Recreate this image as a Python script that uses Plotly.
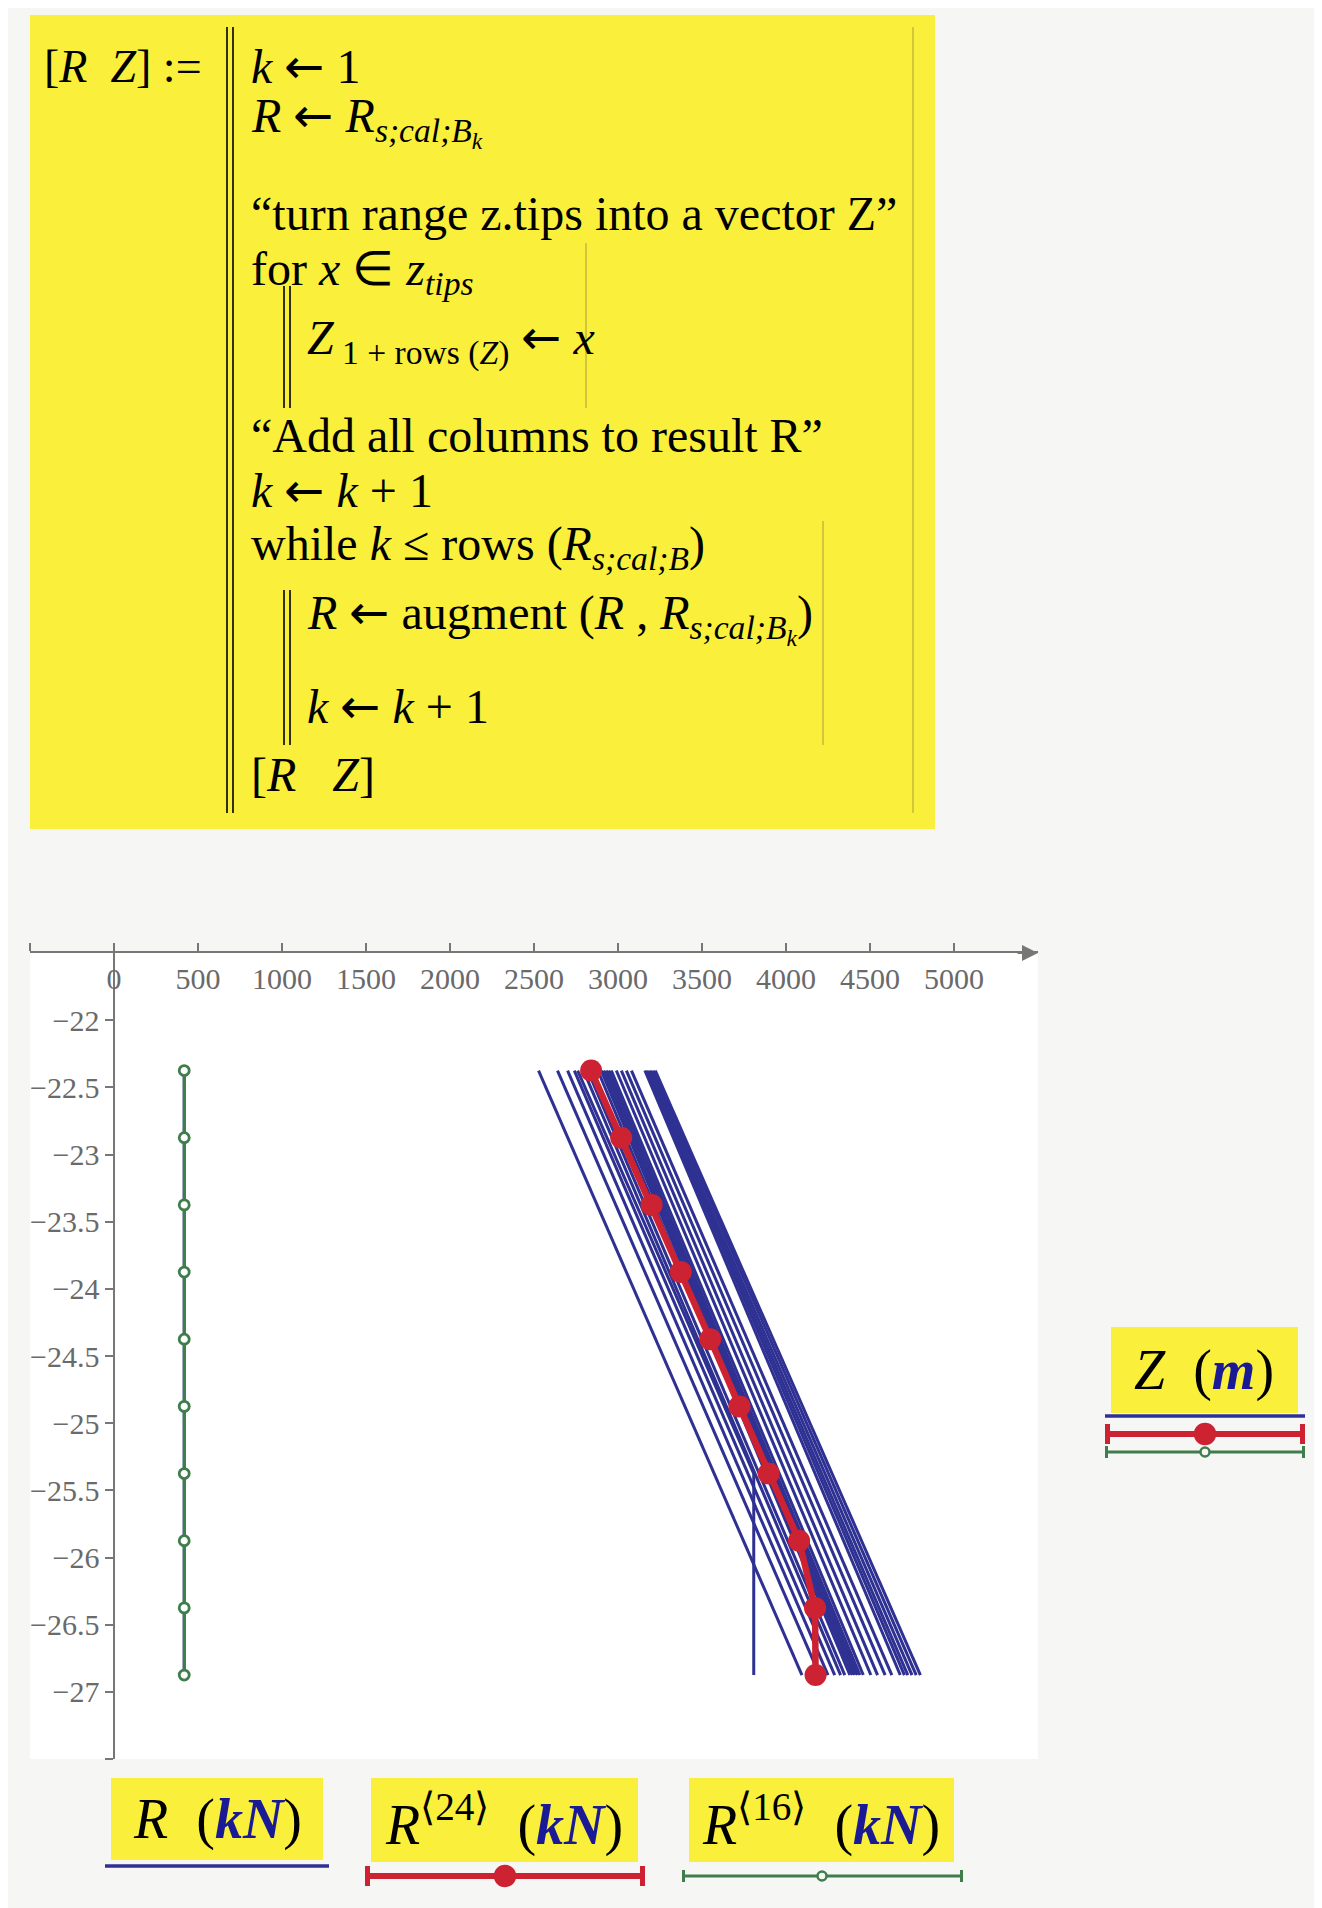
import plotly.graph_objects as go

# -----------------------------
# Datos
# -----------------------------
z_tips = [-22.375, -22.875, -23.375, -23.875, -24.375,
          -24.875, -25.375, -25.875, -26.375, -26.875]

# columnas "normales" de R: valor en la punta superior e inferior
r_top = [2527, 2640, 2700, 2740, 2795, 2820,
         2880, 2900, 2915, 2930, 2945, 2960, 2990, 3020, 3050, 3080,
         3160, 3172, 3185, 3196, 3210, 3222]
r_bot = [4095, 4200, 4250, 4290, 4325, 4350,
         4380, 4395, 4410, 4425, 4440, 4460, 4505, 4545, 4590, 4630,
         4680, 4705, 4725, 4750, 4775, 4800]

# columna con el tramo vertical
r_kink = [2760, 2935, 3110, 3285, 3460, 3635, 3808, 3808, 3808, 3808]
# R<24> y R<16>
r24 = [2840, 3019, 3200, 3374, 3549, 3723, 3897, 4078, 4173, 4176]
r16 = [418, 418, 418, 418, 418, 418, 418, 418, 418, 418]

x_ticks = [-500, 0, 500, 1000, 1500, 2000, 2500, 3000, 3500, 4000, 4500, 5000]
y_ticks = [-27.5, -27, -26.5, -26, -25.5, -25, -24.5, -24, -23.5, -23, -22.5, -22]

# -----------------------------
# Colores / geometria
# -----------------------------
AZUL = "#2e3192"
ROJO = "#cc2232"
VERDE = "#3f7d4c"
AMARILLO = "#faf03c"
GRIS = "#777777"
FONDO = "#f6f7f5"
SERIF = "Liberation Serif"
FLECHA = "<span style='font-family:DejaVu Sans'>←</span>"

W, H = 1322, 1908
OFF = 8  # margen del body de la pagina
ML, MR, MT, MB = 22, 292, 945, 157
PW, PH = W - ML - MR, H - MT - MB


def px(x):
    return (x - OFF - ML) / PW


def py(y):
    return 1 - (y - OFF - MT) / PH


fig = go.Figure()

# Lineas azules (todas las columnas de R)
for a, b in zip(r_top, r_bot):
    fig.add_trace(go.Scatter(
        x=[a, b], y=[z_tips[0], z_tips[-1]], mode="lines",
        line=dict(color=AZUL, width=3), showlegend=False, hoverinfo="skip"))
for col in (r_kink, r24, r16):
    fig.add_trace(go.Scatter(
        x=col, y=z_tips, mode="lines",
        line=dict(color=AZUL, width=3), showlegend=False, hoverinfo="skip"))

# R<24>
fig.add_trace(go.Scatter(
    x=r24, y=z_tips, mode="lines+markers",
    line=dict(color=ROJO, width=6.5),
    marker=dict(size=22, color=ROJO),
    showlegend=False))

# R<16>
fig.add_trace(go.Scatter(
    x=r16, y=z_tips, mode="lines+markers",
    line=dict(color=VERDE, width=3),
    marker=dict(size=10, color="white", symbol="circle",
                line=dict(color=VERDE, width=2.8)),
    showlegend=False))

# -----------------------------
# Bloque de codigo (amarillo)
# -----------------------------
shapes = []
shapes.append(dict(type="rect", xref="paper", yref="paper",
                   x0=px(30), x1=px(935), y0=py(15), y1=py(829),
                   fillcolor=AMARILLO, line=dict(width=0), layer="below"))


def barra(x, y0, y1, color="black", width=1.6):
    shapes.append(dict(type="line", xref="paper", yref="paper",
                       x0=px(x), x1=px(x), y0=py(y0), y1=py(y1),
                       line=dict(color=color, width=width)))


# barras dobles
for xb in (227, 233):
    barra(xb, 27, 813)
for xb in (284, 290):
    barra(xb, 286, 408)
    barra(xb, 590, 745)
# barras finas a la derecha
for xb, y0, y1 in ((913, 27, 813), (586, 243, 408), (823, 521, 745)):
    barra(xb, y0, y1, color="#b8ab3a", width=1.2)

anotaciones = []


def texto(x, y, s, size=48, color="black", xanchor="left"):
    anotaciones.append(dict(
        xref="paper", yref="paper", x=px(x), y=py(y), text=s,
        showarrow=False, xanchor=xanchor, yanchor="middle",
        font=dict(family=SERIF, size=size, color=color)))


texto(42, 66, "[<i>R</i>  <i>Z</i>] :=", size=46)
texto(249, 66, f"<i>k</i> {FLECHA} 1")
texto(249, 120, f"<i>R</i> {FLECHA} <i>R</i><sub><i>s;cal;B<sub>k</sub></i></sub>")
texto(249, 213, "“turn range z.tips into a vector Z”")
texto(249, 272, "for <i>x</i> ∈ <i>z</i><sub><i>tips</i></sub>")
texto(305, 340, f"<i>Z</i><sub> 1 + rows (<i>Z</i>)</sub> {FLECHA} <i>x</i>")
texto(249, 436, "“Add all columns to result R”")
texto(249, 490, f"<i>k</i> {FLECHA} <i>k</i> + 1")
texto(249, 547, "while <i>k</i> ≤ rows (<i>R</i><sub><i>s;cal;B</i></sub>)")
texto(305, 617, f"<i>R</i> {FLECHA} augment (<i>R</i> , <i>R</i><sub><i>s;cal;B<sub>k</sub></i></sub>)")
texto(305, 706, f"<i>k</i> {FLECHA} <i>k</i> + 1")
texto(249, 774, "[<i>R</i>   <i>Z</i>]")

# -----------------------------
# Etiquetas de ejes (estilo Mathcad)
# -----------------------------
KN = "<b><i><span style='color:#1a1a96'>kN</span></i></b>"


def caja(x0, x1, y0, y1):
    shapes.append(dict(type="rect", xref="paper", yref="paper",
                       x0=px(x0), x1=px(x1), y0=py(y0), y1=py(y1),
                       fillcolor=AMARILLO, line=dict(width=0), layer="below"))


caja(111, 323, 1778, 1860)
texto(217, 1819, "<i>R</i>  (" + KN + ")", size=56, xanchor="center")
caja(371, 638, 1778, 1862)
texto(504, 1821, "<i>R</i><sup>⟨24⟩</sup>  (" + KN + ")", size=56, xanchor="center")
caja(689, 954, 1778, 1862)
texto(821, 1821, "<i>R</i><sup>⟨16⟩</sup>  (" + KN + ")", size=56, xanchor="center")
caja(1111, 1298, 1327, 1413)
texto(1204, 1370, "<i>Z</i>  (<b><i><span style='color:#1a1a96'>m</span></i></b>)",
      size=56, xanchor="center")


def muestra(x0, x1, y, color, width):
    shapes.append(dict(type="line", xref="paper", yref="paper",
                       x0=px(x0), x1=px(x1), y0=py(y), y1=py(y),
                       line=dict(color=color, width=width)))


def punto(x, y, r, color, relleno):
    shapes.append(dict(type="circle", xref="paper", yref="paper",
                       x0=px(x - r), x1=px(x + r), y0=py(y - r), y1=py(y + r),
                       fillcolor=relleno, line=dict(color=color, width=2.5)))


def tope(x0, x1, y0, y1, color):
    shapes.append(dict(type="rect", xref="paper", yref="paper",
                       x0=px(x0), x1=px(x1), y0=py(y0), y1=py(y1),
                       fillcolor=color, line=dict(width=0)))


# muestras bajo las etiquetas inferiores
muestra(105, 329, 1866, AZUL, 3.5)
muestra(367, 645, 1876, ROJO, 6)
tope(365, 370, 1866, 1886, ROJO)
tope(640, 645, 1866, 1886, ROJO)
punto(505, 1876, 10, ROJO, ROJO)
muestra(683, 962, 1876, VERDE, 3)
tope(682, 685, 1870, 1882, VERDE)
tope(960, 963, 1870, 1882, VERDE)
punto(822, 1876, 4.5, VERDE, FONDO)

# muestras bajo Z (m)
muestra(1105, 1305, 1416, AZUL, 3.5)
muestra(1105, 1305, 1434, ROJO, 6)
tope(1105, 1110, 1424, 1444, ROJO)
tope(1300, 1305, 1424, 1444, ROJO)
punto(1205, 1434, 10, ROJO, ROJO)
muestra(1105, 1305, 1452, VERDE, 3)
tope(1105, 1108, 1446, 1458, VERDE)
tope(1302, 1305, 1446, 1458, VERDE)
punto(1205, 1452, 4.5, VERDE, FONDO)

# flecha del eje x
anotaciones.append(dict(x=5500, y=-21.5, xref="x", yref="y", ax=-22, ay=0,
                        text="", showarrow=True, arrowhead=2, arrowsize=1.6,
                        arrowwidth=2, arrowcolor=GRIS))

tick_font = dict(family=SERIF, size=30, color="#6a6a6a")
YPOS = (114.4 - 30) / PW

fig.update_layout(
    width=W, height=H,
    margin=dict(l=ML, r=MR, t=MT, b=MB),
    paper_bgcolor=FONDO,
    plot_bgcolor="white",
    showlegend=False,
    shapes=shapes,
    annotations=anotaciones,
    xaxis=dict(
        range=[-500, 5500], side="top", showgrid=False, zeroline=False,
        showline=True, linecolor=GRIS, linewidth=2,
        ticks="outside", ticklen=8, tickwidth=2, tickcolor=GRIS,
        tickvals=x_ticks,
        ticktext=[""] + [str(v) for v in x_ticks[1:]],
        ticklabelposition="inside", ticklabelstandoff=18,
        tickfont=tick_font,
    ),
    xaxis2=dict(
        range=[-500, 5500], overlaying="x", side="top", showgrid=False,
        zeroline=False, ticks="inside", ticklen=8, tickwidth=2, tickcolor=GRIS,
        tickvals=x_ticks, showticklabels=False,
    ),
    yaxis=dict(
        range=[-27.5, -21.5], anchor="free", position=YPOS,
        showgrid=False, zeroline=False,
        showline=True, linecolor=GRIS, linewidth=2,
        ticks="outside", ticklen=8, tickwidth=2, tickcolor=GRIS,
        tickvals=y_ticks,
        ticktext=[""] + [f"{v:g}".replace("-", "−") for v in y_ticks[1:]],
        tickfont=tick_font,
    ),
    yaxis2=dict(
        range=[-27.5, -21.5], overlaying="y", anchor="free",
        position=YPOS, showgrid=False, zeroline=False,
        ticks="inside", ticklen=8, tickwidth=2, tickcolor=GRIS,
        tickvals=y_ticks, showticklabels=False,
    ),
)

fig.write_html("out.html")
